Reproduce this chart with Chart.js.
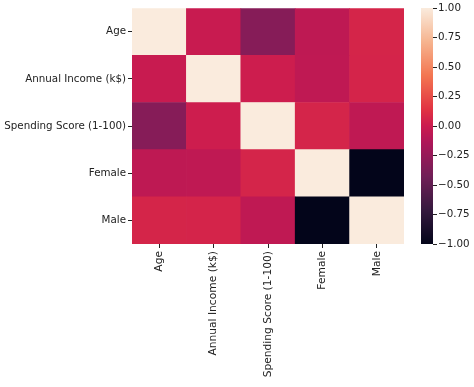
<!DOCTYPE html>
<html>
<head>
<meta charset="utf-8">
<script src="https://cdn.jsdelivr.net/npm/chart.js@4/dist/chart.umd.min.js"></script>
<style>
  html, body { margin: 0; padding: 0; background: #fff; }
  #wrap { position: relative; width: 474px; height: 387px; overflow: hidden; }
  #heat { position: absolute; left: 0; top: 0; }
  #cbar { position: absolute; left: 421px; top: 0; }
</style>
</head>
<body>
<div id="wrap">
  <canvas id="heat" width="404" height="387"></canvas>
  <canvas id="cbar" width="53" height="387"></canvas>
</div>
<script>
const features = ['Age', 'Annual Income (k$)', 'Spending Score (1-100)', 'Female', 'Male'];

// correlation rows (row = y label, values in column order)
const corrAge = [1, -0.012, -0.327, -0.061, 0.061];
const corrIncome = [-0.012, 1, 0.010, -0.056, 0.056];
const corrSpending = [-0.327, 0.010, 1, 0.058, -0.058];
const corrFemale = [-0.061, -0.056, 0.058, 1, -1];
const corrMale = [0.061, 0.056, -0.058, -1, 1];
const rows = [corrAge, corrIncome, corrSpending, corrFemale, corrMale];

const colorbarTicks = [-1, -0.75, -0.5, -0.25, 0, 0.25, 0.5, 0.75, 1];

// seaborn "rocket" colormap stops
const rocket = [
  [0, [3, 5, 26]],
  [0.143, [53, 25, 62]],
  [0.286, [112, 31, 87]],
  [0.429, [173, 23, 89]],
  [0.5, [203, 27, 79]],
  [0.571, [225, 51, 66]],
  [0.714, [243, 118, 81]],
  [0.857, [246, 180, 143]],
  [1, [250, 235, 221]]
];

function rocketColor(v) {
  const t = Math.min(1, Math.max(0, (v + 1) / 2));
  for (let i = 1; i < rocket.length; i++) {
    if (t <= rocket[i][0]) {
      const a = rocket[i - 1], b = rocket[i];
      const f = (t - a[0]) / (b[0] - a[0]);
      const c = a[1].map((x, k) => Math.round(x + (b[1][k] - x) * f));
      return 'rgb(' + c.join(',') + ')';
    }
  }
  return 'rgb(250,235,221)';
}

const textColor = '#222';

// stacked from bottom: last row first
const datasets = rows.slice().reverse().map(function (row, i) {
  return {
    label: features[features.length - 1 - i],
    data: row.map(() => 1),
    backgroundColor: row.map(rocketColor),
    borderWidth: 0,
    barPercentage: 1,
    categoryPercentage: 1
  };
});

new Chart(document.getElementById('heat'), {
  type: 'bar',
  data: { labels: features, datasets: datasets },
  options: {
    responsive: false,
    animation: false,
    layout: { padding: { top: 8, left: 0, right: 0, bottom: 0 } },
    plugins: { legend: { display: false }, tooltip: { enabled: false } },
    scales: {
      x: {
        stacked: true,
        grid: { offset: false, drawOnChartArea: false, tickLength: 4, color: textColor },
        border: { display: false },
        ticks: { font: { family: 'DejaVu Sans', size: 10.7 }, color: textColor, minRotation: 90, maxRotation: 90, padding: 3 },
        afterFit: function (s) { s.height = 387 - 244; }
      },
      y: {
        stacked: true,
        min: 0,
        max: 5,
        grid: { drawOnChartArea: false, tickLength: 4, color: textColor },
        border: { display: false },
        afterBuildTicks: function (s) {
          s.ticks = [0.5, 1.5, 2.5, 3.5, 4.5].map(v => ({ value: v }));
        },
        ticks: {
          font: { family: 'DejaVu Sans', size: 10.3 },
          color: textColor,
          padding: 2,
          callback: function (v) { return features[4 - Math.floor(v)]; }
        },
        afterFit: function (s) { s.width = 132; }
      }
    }
  }
});

new Chart(document.getElementById('cbar'), {
  type: 'bar',
  data: {
    labels: [''],
    datasets: [{
      data: [[-1, 1]],
      borderWidth: 0,
      barPercentage: 1,
      categoryPercentage: 1,
      backgroundColor: function (ctx) {
        const area = ctx.chart.chartArea;
        if (!area) return 'rgb(203,27,79)';
        const g = ctx.chart.ctx.createLinearGradient(0, area.bottom, 0, area.top);
        rocket.forEach(s => g.addColorStop(s[0], 'rgb(' + s[1].join(',') + ')'));
        return g;
      }
    }]
  },
  options: {
    responsive: false,
    animation: false,
    layout: { padding: { top: 8, bottom: 387 - 244, left: 0, right: 0 } },
    plugins: { legend: { display: false }, tooltip: { enabled: false } },
    scales: {
      x: { display: false },
      y: {
        position: 'right',
        min: -1,
        max: 1,
        grid: { drawOnChartArea: false, tickLength: 4, color: textColor },
        border: { display: false },
        afterBuildTicks: function (s) {
          s.ticks = colorbarTicks.map(v => ({ value: v }));
        },
        ticks: {
          font: { family: 'DejaVu Sans', size: 10.3 },
          color: textColor,
          padding: 1,
          callback: function (v) { return v.toFixed(2).replace('-', '\u2212'); }
        },
        afterFit: function (s) { s.width = 41; }
      }
    }
  }
});
</script>
</body>
</html>
